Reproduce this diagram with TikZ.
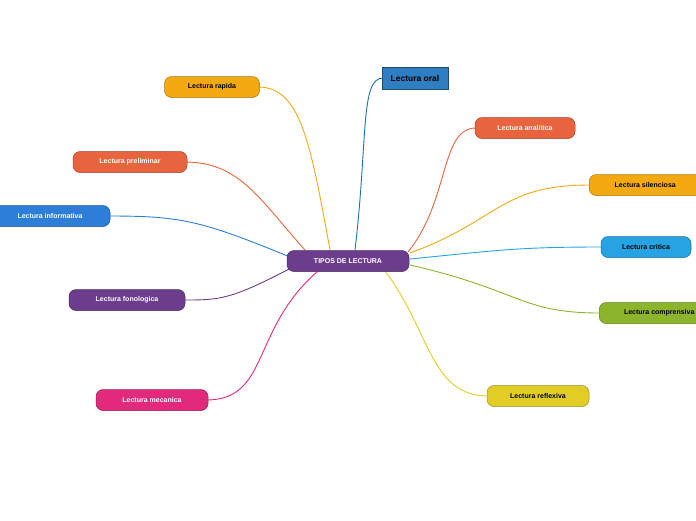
\documentclass[tikz,border=0pt]{standalone}
\usepackage{fontspec}
\setmainfont{Liberation Sans}
\begin{document}
\begin{tikzpicture}[x=1pt,y=-1pt,
  box/.style={draw=#1!70!black,fill=#1,rounded corners=7pt,minimum height=21pt,inner xsep=8pt,font=\fontsize{7}{8}\selectfont\bfseries,line width=0.5pt},
  lk/.style={draw=#1,line width=0.9pt}]
\useasboundingbox (0,0) rectangle (696,520);
\clip (0,0) rectangle (696,520);
\definecolor{cpur}{HTML}{6B3D8C}
\definecolor{corg}{HTML}{F3AA12}
\definecolor{cblu}{HTML}{2F7EC2}
\definecolor{cred}{HTML}{E8643E}
\definecolor{cinf}{HTML}{2C7ED8}
\definecolor{clbl}{HTML}{25A3E3}
\definecolor{cgrn}{HTML}{8DB52C}
\definecolor{cpnk}{HTML}{E22A7C}
\definecolor{cyel}{HTML}{E2CD26}
\definecolor{cdbl}{HTML}{1F6FB5}
% links first
\coordinate (c) at (348,261);
\draw[lk=corg] (330,250) .. controls (310,140) and (300,87) .. (258,87);
\draw[lk=cdbl] (355,250) .. controls (368,140) and (360,78) .. (383,78);
\draw[lk=cred] (408,252) .. controls (450,200) and (440,128) .. (476,128);
\draw[lk=cred] (305,250) .. controls (260,200) and (240,162) .. (185,162);
\draw[lk=corg] (410,253) .. controls (500,220) and (500,185) .. (590,185);
\draw[lk=cinf] (290,257) .. controls (200,220) and (180,216) .. (108,216);
\draw[lk=clbl] (410,259) .. controls (500,250) and (520,247) .. (602,247);
\draw[lk=cpur] (293,267) .. controls (230,300) and (220,300) .. (183,300);
\draw[lk=cgrn] (410,265) .. controls (520,290) and (520,313) .. (600,313);
\draw[lk=cpnk] (318,271) .. controls (250,330) and (270,400) .. (206,400);
\draw[lk=cyel] (385,271) .. controls (430,330) and (430,396) .. (488,396);
% nodes
\node[box=cpur,text=white,minimum width=122pt] (tl) at (348,261) {TIPOS DE LECTURA};
\node[box=corg,minimum width=95pt] (a) at (212,87) {Lectura rapida};
\node[draw=cblu!60!black,fill=cblu,minimum width=66pt,minimum height=22pt,inner sep=2pt,font=\fontsize{8.5}{9}\selectfont\bfseries] (b) at (415,78) {Lectura oral};
\node[box=cred,text=white,minimum width=100pt] (c1) at (525,128) {Lectura analitica};
\node[box=cred,text=white,minimum width=114pt] (d) at (130,162) {Lectura preliminar};
\node[box=corg,minimum width=112pt,anchor=west] (e) at (589,185) {Lectura silenciosa};
\node[box=cinf,text=white,minimum width=120pt] (f) at (50,216) {Lectura informativa};
\node[box=clbl,minimum width=90pt] (g) at (646,247) {Lectura critica};
\node[box=cpur,text=white,minimum width=116pt] (h) at (127,300) {Lectura fonologica};
\node[box=cgrn,anchor=west,minimum width=120pt] (i) at (599,313) {Lectura comprensiva};
\node[box=cpnk,text=white,minimum width=112pt] (j) at (152,400) {Lectura mecanica};
\node[box=cyel,minimum width=102pt] (k) at (538,396) {Lectura reflexiva};
\end{tikzpicture}
\end{document}
